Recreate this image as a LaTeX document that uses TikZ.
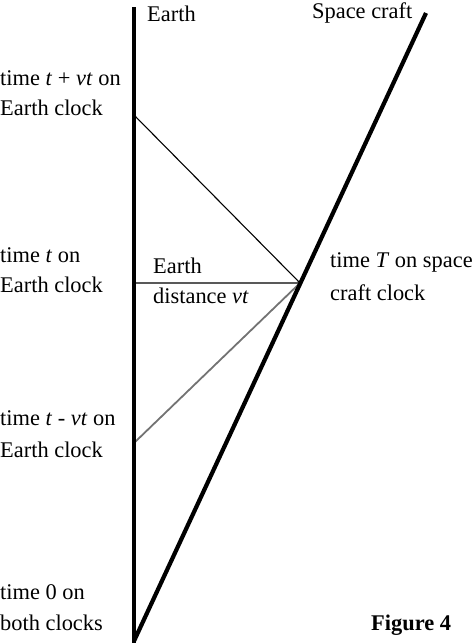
\documentclass[tikz,border=0pt]{standalone}
\usepackage{fontspec}
\setmainfont{Liberation Serif}
\begin{document}
\begin{tikzpicture}[x=1pt,y=-1pt,
  lbl/.style={anchor=base west,inner sep=0pt,font=\fontsize{22.4}{26}\selectfont},
  worldline/.style={line width=4.2pt,black},
  thinblack/.style={line width=1.1pt,black},
  thingray/.style={line width=1.6pt,black!65},
  thingrayb/.style={line width=1.8pt,black!55}]
\useasboundingbox (0,0) rectangle (474,643);
\clip (0,0) rectangle (474,643);
% coordinates
\coordinate (eTop) at (134,7);
\coordinate (eBot) at (134,646);
\coordinate (origin) at (134,641);
\coordinate (sTop) at (426,13);
\coordinate (ev) at (300,283);
\coordinate (eUp) at (134,115);
\coordinate (eMid) at (134,283);
\coordinate (eLow) at (134,443);
% lines
\draw[thinblack] (eUp) -- (ev);
\draw[thingray] (eMid) -- (ev);
\draw[thingrayb] (eLow) -- (ev);
\draw[worldline] (eTop) -- (eBot);
\draw[worldline] (origin) -- (sTop);
% labels
\node[lbl] (lEarth) at (147,21) {Earth};
\node[lbl] (lCraft) at (312,18) {Space craft};
\node[lbl] (l1a) at (0,85) {time \textit{t} + \textit{vt} on};
\node[lbl] (l1b) at (0,115) {Earth clock};
\node[lbl] (l2a) at (0,262) {time \textit{t} on};
\node[lbl] (l2b) at (0,292) {Earth clock};
\node[lbl] (l3a) at (0,425) {time \textit{t} - \textit{vt} on};
\node[lbl] (l3b) at (0,457) {Earth clock};
\node[lbl] (l4a) at (0,599) {time 0 on};
\node[lbl] (l4b) at (0,630) {both clocks};
\node[lbl] (m1) at (153,273) {Earth};
\node[lbl] (m2) at (153,303) {distance \textit{vt}};
\node[lbl] (r1) at (330,267) {time \textit{T} on space};
\node[lbl] (r2) at (330,300) {craft clock};
\node[lbl,font=\fontsize{22.4}{26}\selectfont\bfseries] (fig) at (371,630) {Figure 4};
\end{tikzpicture}
\end{document}
